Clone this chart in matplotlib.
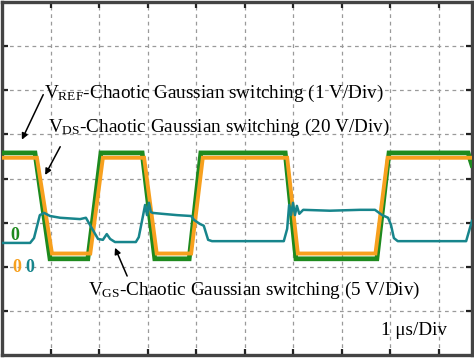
"""
Oscilloscope capture: chaotic Gaussian switching waveforms
(V_REF, V_DS, V_GS) on a 1 us/Div time base.
"""

import numpy as np
import matplotlib.pyplot as plt

plt.rcParams.update({
    'font.family': 'Liberation Serif',
    'mathtext.fontset': 'custom',
    'mathtext.rm': 'Liberation Serif',
    'mathtext.it': 'Liberation Serif:italic',
})

# Waveform breakpoints read from the screen: time in us (1 div = 1 us),
# level in vertical divisions counted from the bottom of the screen.
t_ref = [0.00, 0.68, 0.99, 1.77, 2.04, 2.89, 3.15, 3.86, 4.10, 5.84,
         6.06, 7.73, 7.98, 9.61, 9.69]
v_ref = [4.58, 4.58, 2.18, 2.18, 4.58, 4.58, 2.18, 2.18, 4.58, 4.58,
         2.18, 2.18, 4.58, 4.58, 4.30]

t_ds = [0.00, 0.72, 1.03, 1.82, 2.08, 2.93, 3.19, 3.90, 4.14, 5.88,
        6.10, 7.70, 7.95, 9.69]
v_ds = [4.47, 4.47, 2.30, 2.30, 4.47, 4.47, 2.30, 2.30, 4.47, 4.47,
        2.30, 2.30, 4.47, 4.47]

t_gs = [0.00, 0.58, 0.66, 0.78, 0.87, 0.99, 1.20, 1.61, 1.73, 1.86,
        1.98, 2.08, 2.16, 2.23, 2.33, 2.76, 2.82, 2.91, 2.95, 2.99,
        3.03, 3.07, 3.11, 3.30, 3.61, 3.90, 3.96, 4.08, 4.16, 4.25,
        4.33, 5.81, 5.88, 5.92, 5.96, 6.00, 6.04, 6.08, 6.13, 6.21,
        6.76, 7.38, 7.69, 7.84, 7.96, 8.02, 8.08, 8.16, 9.57, 9.63,
        9.69]
v_gs = [2.54, 2.54, 2.65, 3.17, 3.22, 3.15, 3.11, 3.08, 3.11, 2.86,
        2.63, 2.61, 2.74, 2.63, 2.56, 2.56, 2.67, 3.17, 3.40, 3.17,
        3.45, 3.24, 3.22, 3.20, 3.17, 3.15, 3.06, 2.97, 2.93, 2.61,
        2.58, 2.58, 2.86, 3.40, 3.17, 3.45, 3.17, 3.38, 3.20, 3.29,
        3.27, 3.29, 3.29, 3.17, 3.11, 2.95, 2.65, 2.58, 2.58, 2.81,
        3.04]

COLORS = {
    'ref': '#1e8a1e',
    'ds': '#f7a01e',
    'gs': '#17858c',
}

fig = plt.figure(figsize=(4.74, 3.58), dpi=100)
ax = fig.add_axes([2 / 474, 3 / 358, 470 / 474, 353 / 358])

ax.plot(t_ref, v_ref, color=COLORS['ref'], lw=3.4, solid_joinstyle='miter', zorder=3)
ax.plot(t_ds, v_ds, color=COLORS['ds'], lw=2.8, solid_joinstyle='miter', zorder=4)
ax.plot(t_gs, v_gs, color=COLORS['gs'], lw=1.8, zorder=5)

ax.set_xlim(0, 470 / 48.5)
ax.set_ylim(0, 8)
ax.set_xticks(np.arange(1, 10))
ax.set_yticks(np.arange(1, 8))
ax.tick_params(which='both', direction='in', length=4, width=1.6, color='#222222',
               top=True, right=True, labelbottom=False, labelleft=False)
ax.grid(True, color='#9a9a9a', lw=0.9, ls=(0, (3, 3)))
for s in ax.spines.values():
    s.set_color('#444444')
    s.set_linewidth(2.4)

# Channel ground markers
ax.text(0.27, 2.70, '0', color=COLORS['ref'], fontsize=13, fontweight='bold',
        ha='center', va='center', zorder=6)
ax.text(0.31, 1.99, '0', color=COLORS['ds'], fontsize=13, fontweight='bold',
        ha='center', va='center', zorder=6)
ax.text(0.58, 1.99, '0', color=COLORS['gs'], fontsize=13, fontweight='bold',
        ha='center', va='center', zorder=6)

# Labels with arrows
fs = 13.8
arrow = dict(arrowstyle='-|>', color='black', lw=1.1, mutation_scale=9,
             shrinkA=0, shrinkB=0)
ax.text(0.87, 5.83, r'$\mathregular{V_{REF}}$-Chaotic Gaussian switching (1 V/Div)',
        fontsize=fs, va='baseline', zorder=7)
ax.annotate('', xy=(0.41, 4.88), xytext=(0.85, 5.90), arrowprops=arrow, zorder=7)

ax.text(0.95, 5.06, r'$\mathregular{V_{DS}}$-Chaotic Gaussian switching (20 V/Div)',
        fontsize=fs, va='baseline', zorder=7)
ax.annotate('', xy=(0.89, 4.08), xytext=(1.20, 4.72), arrowprops=arrow, zorder=7)

ax.text(1.77, 1.36, r'$\mathregular{V_{GS}}$-Chaotic Gaussian switching (5 V/Div)',
        fontsize=fs, va='baseline', zorder=7)
ax.annotate('', xy=(2.33, 2.43), xytext=(2.58, 1.79), arrowprops=arrow, zorder=7)

ax.text(7.81, 0.45, '1 \u03bcs/Div', fontsize=fs, va='baseline', zorder=7)

fig.savefig('out.png', dpi=100)
